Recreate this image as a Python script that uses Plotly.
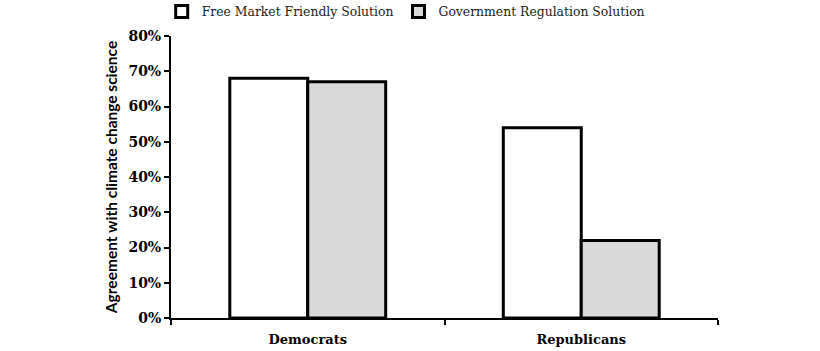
import plotly.graph_objects as go

categories = ["Democrats", "Republicans"]
free_market = [68, 54]
gov_regulation = [67, 22]
series_names = ["Free Market Friendly Solution", "Government Regulation Solution"]
y_ticks = [0, 10, 20, 30, 40, 50, 60, 70, 80]
y_tick_labels = [f"{v}%" for v in y_ticks]

serif = "DejaVu Serif, Liberation Serif, serif"

fig = go.Figure()
fig.add_trace(go.Bar(
    x=categories, y=free_market, name=series_names[0],
    marker=dict(color="white", line=dict(color="black", width=3)),
))
fig.add_trace(go.Bar(
    x=categories, y=gov_regulation, name=series_names[1],
    marker=dict(color="#d9d9d9", line=dict(color="black", width=3)),
))

fig.update_layout(
    width=820, height=351,
    margin=dict(l=171, r=102, t=36, b=33, autoexpand=False),
    paper_bgcolor="white", plot_bgcolor="white",
    barmode="group", bargap=0.43, bargroupgap=0,
    showlegend=True,
    legend=dict(orientation="h", x=-0.017, xanchor="left", y=1.085, yanchor="middle",
                font=dict(family=serif, size=12.4, color="#222"),
                itemwidth=30, tracegroupgap=0, bgcolor="rgba(0,0,0,0)"),
    font=dict(family=serif, color="black"),
)
fig.update_xaxes(
    showline=True, linecolor="black", linewidth=2,
    ticks="outside", tickson="boundaries", ticklen=5, tickwidth=2, tickcolor="black",
    tickfont=dict(family=serif, size=13, color="black", weight="bold"),
    ticklabelstandoff=8,
    showgrid=False, zeroline=False,
)
fig.update_yaxes(
    range=[0, 80], tickvals=y_ticks, ticktext=y_tick_labels,
    showline=True, linecolor="black", linewidth=2,
    ticks="outside", ticklen=5, tickwidth=1.5, tickcolor="black",
    tickfont=dict(family=serif, size=14, color="black", weight="bold"),
    showgrid=False, zeroline=False,
    title=dict(text="Agreement with climate change science",
               font=dict(family="Lato, Open Sans, sans-serif", size=15.5, color="black", weight="bold"),
               standoff=7),
)
fig.write_html("out.html")
